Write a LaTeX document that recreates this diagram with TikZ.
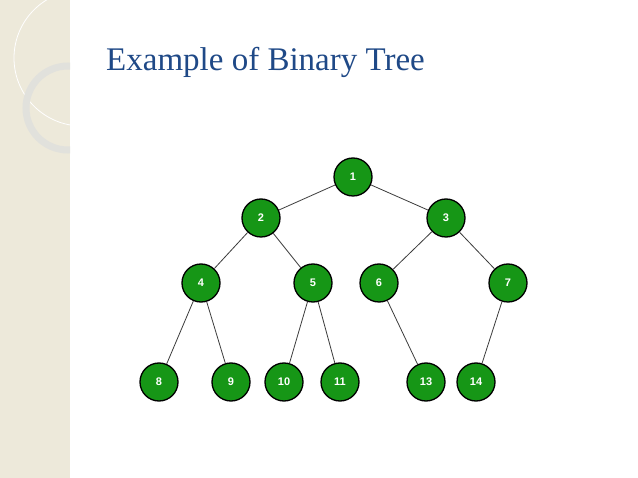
\documentclass[tikz,border=0pt]{standalone}
\usepackage{fontspec}
\setmainfont{Liberation Serif}
\setsansfont{Liberation Sans}
\definecolor{nodegreen}{RGB}{22,150,22}
\definecolor{edgegray}{RGB}{60,60,60}
\definecolor{panel}{RGB}{237,233,218}
\definecolor{ringgray}{RGB}{225,225,220}
\definecolor{titleblue}{RGB}{31,73,135}
\begin{document}
\begin{tikzpicture}[x=1pt,y=-1pt,
  tn/.style={circle,draw=black,line width=1.3pt,fill=nodegreen,minimum size=38pt,inner sep=0pt,text=white,font=\sffamily\bfseries\fontsize{11}{12}\selectfont},
  ed/.style={draw=edgegray,line width=0.8pt}]
\useasboundingbox (0,0) rectangle (638,478);
\fill[white] (0,0) rectangle (638,478);
\fill[panel] (0,0) rectangle (70,478);
\begin{scope}
\clip (0,0) rectangle (70,478);
\draw[white,line width=0.8pt] (82,58) circle (68);
\draw[ringgray,line width=7pt] (68,108) circle (42);
\end{scope}
\node[anchor=west,font=\fontsize{33}{36}\selectfont,text=titleblue,inner sep=0pt] (t) at (106,62) {Example of Binary Tree};
\node[tn] (n1) at (353,177) {1};
\node[tn] (n2) at (261,218) {2};
\node[tn] (n3) at (446,218) {3};
\node[tn] (n4) at (201,283) {4};
\node[tn] (n5) at (313,283) {5};
\node[tn] (n6) at (379,283) {6};
\node[tn] (n7) at (508,283) {7};
\node[tn] (n8) at (159,382) {8};
\node[tn] (n9) at (231,382) {9};
\node[tn] (n10) at (284,382) {10};
\node[tn] (n11) at (340,382) {11};
\node[tn] (n13) at (426,382) {13};
\node[tn] (n14) at (476,382) {14};
\foreach \a/\b in {n1/n2,n1/n3,n2/n4,n2/n5,n3/n6,n3/n7,n4/n8,n4/n9,n5/n10,n5/n11,n6/n13,n7/n14}
  \draw[ed] (\a) -- (\b);
\end{tikzpicture}
\end{document}
